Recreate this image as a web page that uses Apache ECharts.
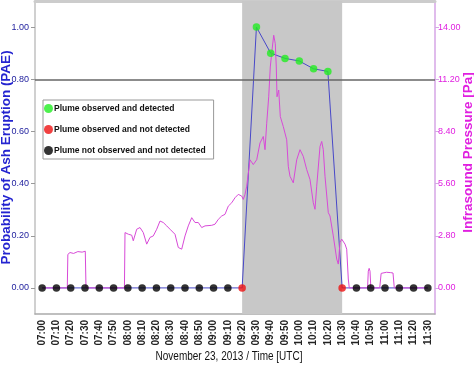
<!DOCTYPE html>
<html>
<head>
<meta charset="utf-8">
<script src="https://cdn.jsdelivr.net/npm/echarts@6/dist/echarts.min.js"></script>
<style>
html,body{margin:0;padding:0;background:#fff;}
#main{width:474px;height:367px;}
</style>
</head>
<body>
<div id="main"></div>
<script>
// ---- data ----
const timeLabels = ['07:00','07:10','07:20','07:30','07:40','07:50','08:00','08:10','08:20','08:30','08:40','08:50','09:00','09:10','09:20','09:30','09:40','09:50','10:00','10:10','10:20','10:30','10:40','10:50','11:00','11:10','11:20','11:30'];
const paeValues = [0,0,0,0,0,0,0,0,0,0,0,0,0,0,0,1.00,0.90,0.88,0.87,0.84,0.83,0,0,0,0,0,0,0];
const detection = ['none','none','none','none','none','none','none','none','none','none','none','none','none','none','missed','detected','detected','detected','detected','detected','detected','missed','none','none','none','none','none','none'];
const paeTicks = [0,0.2,0.4,0.6,0.8,1.0];
const pressureTicks = [0,2.8,5.6,8.4,11.2,14.0];
const threshold = 0.8;
const eruptionStart = '09:20';
const eruptionEnd = '10:30';
// infrasound pressure: minutes after 07:00, pressure [Pa]
const infraMinutes = [0,17.6,18.0,19.5,22,25,28,30.2,30.7,57.6,58.0,60.4,62.7,63.8,66.2,68.5,70.8,73.2,75.5,77.8,80.2,82.5,84.8,87.2,89.5,93.0,95.3,97.7,100.0,102.3,104.7,107.0,109.3,111.7,114.0,118.7,121.0,123.3,125.7,128.0,130.3,132.7,135.0,137.3,138.5,139.7,140.8,142.0,143.2,145.5,147.8,150.2,152.5,154.8,156.0,157.2,158.6,159.7,160.9,162.1,163.2,163.9,164.4,165.6,166.7,168.8,171.2,172.3,173.5,175.8,178.2,180.5,182.8,185.2,187.5,189.8,191.0,192.2,194.5,195.7,196.8,198.0,200.3,201.5,203.8,206.2,207.3,208.5,209.7,212.0,213.2,214.3,215.0,227.8,228.3,228.9,229.5,230.1,236.3,237.3,238.5,241.0,244.0,245.6,246.5,270];
const infraPa = [0,0,1.80,1.90,1.85,1.95,1.92,1.97,0,0,2.97,2.88,2.83,2.53,3.15,3.24,2.97,2.35,2.71,2.79,3.15,3.59,3.51,3.33,3.15,2.88,2.17,2.08,2.79,3.33,3.77,3.51,3.51,3.24,3.33,3.36,3.42,3.68,3.86,3.95,4.39,4.57,4.84,5.02,5.11,4.93,4.75,5.02,5.46,6.88,6.62,6.88,7.78,8.13,7.42,8.84,10.26,11.86,12.76,13.56,13.11,11.86,10.26,10.62,9.20,8.66,7.95,6.53,5.99,5.64,6.88,7.42,7.06,6.35,5.82,4.57,4.22,5.46,7.59,7.86,7.42,5.99,4.04,3.86,2.79,1.55,1.28,2.44,2.62,2.35,2.08,0.48,0,0,0.90,1.05,0.90,0,0,0.78,0.84,0.84,0.82,0.80,0,0];
const xTitle = 'November 23, 2013 / Time [UTC]';

// ---- helpers ----
const toMin = t => { const p = t.split(':'); return (+p[0]-7)*60 + (+p[1]); };
const xTicks = timeLabels.map(toMin);
const paeLine = timeLabels.map((t,i) => [toMin(t), paeValues[i]]);
const dotsOf = k => timeLabels.map((t,i) => detection[i] === k ? [toMin(t), paeValues[i]] : null).filter(d => d);
const infraLine = infraMinutes.map((m,i) => [m, infraPa[i]]);

const FONT = "'Liberation Sans',Arial,sans-serif";
const chart = echarts.init(document.getElementById('main'), null, {renderer:'canvas'});
chart.setOption({
  animation: false,
  backgroundColor: '#ffffff',
  grid: {left: 35, right: 39, top: 1, bottom: 53, outerBoundsMode: 'none', containLabel: false},
  graphic: [{
    type: 'text', x: 229, y: 357, scaleX: 0.8,
    style: {text: xTitle, font: '12.5px ' + FONT, fill: '#111', align: 'center', verticalAlign: 'middle'}
  }],
  legend: {
    orient: 'vertical', left: 43, top: 100,
    backgroundColor: '#ffffff', borderColor: '#999', borderWidth: 1,
    padding: [4, 8, 4, 1], itemGap: 12, itemWidth: 9, itemHeight: 9,
    icon: 'circle',
    textStyle: {fontFamily: FONT, fontSize: 8.5, fontWeight: 'bold', color: '#111', padding: [0,0,0,-4]},
    data: ['Plume observed and detected','Plume observed and not detected','Plume not observed and not detected']
  },
  xAxis: [{
    type: 'value', min: -5, max: 275,
    axisLine: {onZero: false, lineStyle: {color: '#aaa', width: 1.5}},
    axisTick: {show: false},
    splitLine: {show: false},
    axisLabel: {customValues: xTicks, rotate: 90, margin: 6, fontFamily: FONT, fontSize: 10, fontWeight: 'bold', color: '#222',
      formatter: v => timeLabels[Math.round(v/10)]}
  }, {
    type: 'value', min: -5, max: 275, position: 'top',
    axisLine: {onZero: false, lineStyle: {color: '#cccccc', width: 3}},
    axisTick: {show: false}, axisLabel: {show: false}, splitLine: {show: false}
  }],
  yAxis: [{
    type: 'value', min: -0.1, max: 1.1, position: 'left',
    name: 'Probability of Ash Eruption (PAE)', nameLocation: 'middle', nameGap: 22, nameMoveOverlap: false,
    nameTextStyle: {fontFamily: FONT, fontSize: 13.5, fontWeight: 'bold', color: '#2424d0'},
    axisLine: {show: true, onZero: false, lineStyle: {color: '#c0c0c0', width: 1.5}},
    axisTick: {show: true, customValues: paeTicks, length: 4, lineStyle: {color: '#999'}},
    splitLine: {show: false},
    axisLabel: {customValues: paeTicks, margin: 6, fontFamily: FONT, fontSize: 9, color: '#1c1c9c', formatter: v => v.toFixed(2)}
  }, {
    type: 'value', min: -1.4, max: 15.4, position: 'right',
    name: 'Infrasound Pressure [Pa]', nameLocation: 'middle', nameGap: 26, nameMoveOverlap: false,
    nameTextStyle: {fontFamily: FONT, fontSize: 13.5, fontWeight: 'bold', color: '#e020e0', padding: [0, 0, 0, 10]},
    axisLine: {show: true, onZero: false, lineStyle: {color: '#d6a6e6', width: 1.5}},
    axisTick: {show: true, customValues: pressureTicks, length: 4, lineStyle: {color: '#d6a6e6'}},
    splitLine: {show: false},
    axisLabel: {customValues: pressureTicks, margin: 3, fontFamily: FONT, fontSize: 9, color: '#e020e0', formatter: v => v.toFixed(2)}
  }],
  series: [{
    name: 'Infrasound', type: 'line', xAxisIndex: 0, yAxisIndex: 1, data: infraLine,
    showSymbol: false, symbol: 'none', z: 3,
    lineStyle: {color: '#d84ad8', width: 1},
    markArea: {silent: true, itemStyle: {color: '#c8c8c8'}, data: [[{xAxis: toMin(eruptionStart)}, {xAxis: toMin(eruptionEnd)}]]}
  }, {
    name: 'PAE', type: 'line', xAxisIndex: 0, yAxisIndex: 0, data: paeLine,
    showSymbol: false, symbol: 'none', z: 2,
    lineStyle: {color: '#4848c8', width: 1},
    markLine: {silent: true, symbol: 'none', label: {show: false}, lineStyle: {color: '#666', width: 1.5, type: 'solid'}, data: [{yAxis: threshold}]}
  }, {
    name: 'Plume observed and detected', type: 'scatter', yAxisIndex: 0, data: dotsOf('detected'),
    symbolSize: 7.5, itemStyle: {color: '#22ee22'}, z: 5
  }, {
    name: 'Plume observed and not detected', type: 'scatter', yAxisIndex: 0, data: dotsOf('missed'),
    symbolSize: 7.5, itemStyle: {color: '#ee1111'}, z: 5
  }, {
    name: 'Plume not observed and not detected', type: 'scatter', yAxisIndex: 0, data: dotsOf('none'),
    symbolSize: 7.5, itemStyle: {color: '#000000'}, z: 5
  }]
});
</script>
</body>
</html>
